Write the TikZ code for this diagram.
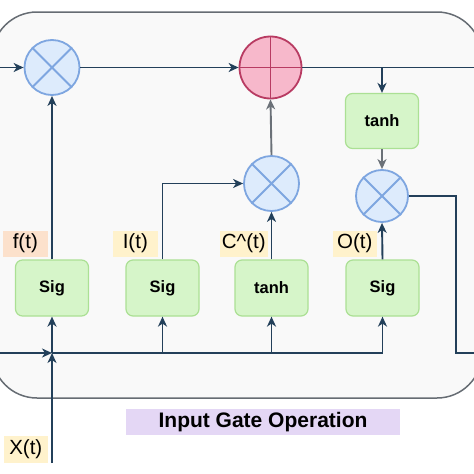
\documentclass[tikz,border=0pt]{standalone}
\usepackage{fontspec}
\setmainfont{Liberation Sans}
\usetikzlibrary{arrows.meta}
\definecolor{navy}{HTML}{23405A}
\definecolor{grayln}{HTML}{6B7178}
\definecolor{bgfill}{HTML}{F9F9F9}
\definecolor{bgdraw}{HTML}{666C73}
\definecolor{mulfill}{HTML}{DDEBFC}
\definecolor{muldraw}{HTML}{7EA6E0}
\definecolor{addfill}{HTML}{F7B8CB}
\definecolor{adddraw}{HTML}{B83B62}
\definecolor{boxfill}{HTML}{D6F5C9}
\definecolor{boxdraw}{HTML}{ABE094}
\definecolor{orangelab}{HTML}{FCE1CC}
\definecolor{yellowlab}{HTML}{FFF2CC}
\definecolor{purplelab}{HTML}{E4D7F5}
\tikzset{
  conn/.style={draw=navy, line width=1.9pt},
  connarr/.style={conn, -{Stealth[length=10pt,width=9pt,inset=3pt]}},
  grayarr/.style={draw=grayln, line width=1.9pt, -{Stealth[length=10pt,width=9pt,inset=3pt]}},
  mulop/.style={circle, minimum size=55pt, inner sep=0pt, fill=mulfill, draw=muldraw, line width=1.8pt},
  addop/.style={circle, minimum size=62pt, inner sep=0pt, fill=addfill, draw=adddraw, line width=1.8pt},
  gatebox/.style={rectangle, rounded corners=7pt, minimum width=73pt, minimum height=56pt, fill=boxfill, draw=boxdraw, line width=1.2pt, font=\fontsize{16.5}{18}\selectfont\bfseries},
  lab/.style={rectangle, inner sep=0pt, minimum height=26pt, font=\fontsize{20.5}{22}\selectfont},
}
\begin{document}
\begin{tikzpicture}[x=1pt,y=-1pt]
\useasboundingbox (0,0) rectangle (474,474);
\draw[fill=bgfill, draw=bgdraw, line width=1.5pt, rounded corners=45pt] (-8,12) rectangle (482,398);

% operators
\node[mulop] (m1) at (52,67.5) {};
\node[addop] (add) at (270.5,67.5) {};
\node[mulop] (m2) at (271.5,183.5) {};
\node[mulop, minimum size=52pt] (m3) at (382,196) {};
\draw[muldraw, line width=1.8pt] (m1.north west) -- (m1.south east) (m1.north east) -- (m1.south west);
\draw[muldraw, line width=1.8pt] (m2.north west) -- (m2.south east) (m2.north east) -- (m2.south west);
\draw[muldraw, line width=1.8pt] (m3.north west) -- (m3.south east) (m3.north east) -- (m3.south west);
\draw[adddraw, line width=1.8pt] (add.north) -- (add.south) (add.west) -- (add.east);

% gate boxes
\node[gatebox, minimum height=55pt] (tanhtop) at (382,121) {tanh};
\node[gatebox] (sf) at (52,288) {Sig};
\node[gatebox] (si) at (162.5,288) {Sig};
\node[gatebox] (tc) at (271.5,288) {tanh};
\node[gatebox] (so) at (382.5,288) {Sig};

% coordinates
\coordinate (inC) at (0,67.5);
\coordinate (outC) at (474,67.5);
\coordinate (br) at (382,67.5);
\coordinate (inH) at (0,353);
\coordinate (jn) at (52,353);
\coordinate (xb) at (52,463);
\coordinate (rc) at (456,196);
\coordinate (rd) at (456,353);
\coordinate (re) at (474,353);

% top line
\draw[connarr] (inC) -- (m1.west);
\draw[connarr] (m1.east) -- (add.west);
\draw[conn] (add.east) -- (outC);
\draw[connarr] (br) -- (tanhtop.north);
\draw[grayarr] (tanhtop.south) -- (m3.north);
\draw[conn] (m3.east) -- (rc) -- (rd) -- (re);
\draw[grayarr] (m2.north) -- (add.south);

% gate outputs
\draw[connarr] (sf.north) -- (m1.south);
\draw[connarr] (si.north) |- (m2.west);
\draw[connarr] (tc.north) -- (m2.south);
\draw[connarr] (so.north) -- (m3.south);

% bottom input line
\draw[connarr] (inH) -- (jn);
\draw[connarr] (xb) -- (jn);
\draw[connarr] (jn) -- (sf.south);
\draw[conn] (jn) -- (382.5,353);
\draw[connarr] (162.5,353) -- (si.south);
\draw[connarr] (271.5,353) -- (tc.south);
\draw[connarr] (382.5,353) -- (so.south);

% labels
\node[lab, fill=orangelab, minimum width=45pt, anchor=east] (lf) at (48,243.5) {f(t)};
\node[lab, fill=yellowlab, minimum width=45pt, anchor=east] (li) at (158,243.5) {I(t)};
\node[lab, fill=yellowlab, minimum width=48pt, anchor=east] (lc) at (268,243.5) {C\^{}(t)};
\node[lab, fill=yellowlab, minimum width=44pt, anchor=east] (lo) at (377,243.5) {O(t)};
\node[lab, fill=yellowlab, minimum width=44pt, minimum height=27pt, anchor=east] (lx) at (48,449.5) {X(t)};
\node[rectangle, inner sep=0pt, minimum width=274pt, minimum height=26pt, fill=purplelab, font=\fontsize{21}{22}\selectfont\bfseries] (title) at (263,422) {Input Gate Operation};
\end{tikzpicture}
\end{document}
